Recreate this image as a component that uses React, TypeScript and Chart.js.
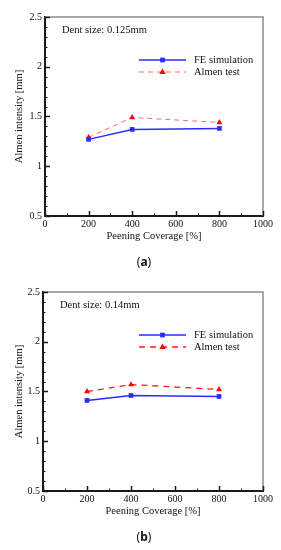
import React, { useEffect, useRef } from 'react';
import { Chart, registerables } from 'chart.js';

Chart.register(...registerables);

// ---- data ----
const coverage = [200, 400, 800];
const feA = [1.27, 1.37, 1.38];
const almenA = [1.29, 1.49, 1.44];
const feB = [1.41, 1.46, 1.45];
const almenB = [1.5, 1.57, 1.52];
const xTickValues = [0, 200, 400, 600, 800, 1000];
const yTickValues = [0.5, 1, 1.5, 2, 2.5];
const seriesNames = ['FE simulation', 'Almen test'];
const dentLabels = ['Dent size: 0.125mm', 'Dent size: 0.14mm'];
const captionLetters = ['a', 'b'];
const xTitle = 'Peening Coverage [%]';
const yTitle = 'Almen intensity [mm]';
const xMinorStep = 100;
const yMinorStep = 0.1;

const SERIF = "'Liberation Serif', 'Times New Roman', serif";
const W = 281;
const H = 275;

const decorPlugin = {
  id: 'decor',
  afterDraw(chart: any) {
    const { ctx, chartArea: a, scales } = chart;
    const x = scales.x;
    const y = scales.y;
    const o = chart.options.plugins.decor;
    ctx.save();
    // top / right frame
    ctx.strokeStyle = '#8c8c8c';
    ctx.lineWidth = 1.5;
    ctx.beginPath();
    ctx.moveTo(a.left, a.top);
    ctx.lineTo(a.right, a.top);
    ctx.lineTo(a.right, a.bottom);
    ctx.stroke();

    // inward ticks
    ctx.strokeStyle = '#1a1a1a';
    const xMajor = xTickValues[1] - xTickValues[0];
    for (let v = x.min; v <= x.max + 1e-6; v += xMinorStep) {
      const px = Math.round(x.getPixelForValue(v)) + 0.5;
      const major = Math.abs(v / xMajor - Math.round(v / xMajor)) < 1e-6;
      ctx.lineWidth = major ? 1.5 : 1;
      ctx.beginPath();
      ctx.moveTo(px, a.bottom);
      ctx.lineTo(px, a.bottom - (major ? 5 : 2.5));
      ctx.stroke();
    }
    const yMajor = yTickValues[1] - yTickValues[0];
    for (let v = y.min; v <= y.max + 1e-6; v += yMinorStep) {
      const py = Math.round(y.getPixelForValue(v)) + 0.5;
      const r = (v - y.min) / yMajor;
      const major = Math.abs(r - Math.round(r)) < 1e-6;
      ctx.lineWidth = major ? 1.5 : 1;
      ctx.beginPath();
      ctx.moveTo(a.left, py);
      ctx.lineTo(a.left + (major ? 5 : 2.5), py);
      ctx.stroke();
    }

    // dent size text
    ctx.fillStyle = '#111';
    ctx.font = `10.5px ${SERIF}`;
    ctx.textAlign = 'left';
    ctx.textBaseline = 'middle';
    ctx.fillText(o.dent, o.dentX, 30.5);

    // legend
    const ds = chart.data.datasets;
    const legendYs = [60, 72];
    ds.forEach((d: any, i: number) => {
      const ly = legendYs[i];
      ctx.save();
      ctx.strokeStyle = d.borderColor;
      ctx.lineWidth = d.borderWidth;
      ctx.setLineDash(d.borderDash || []);
      ctx.beginPath();
      ctx.moveTo(139, ly);
      ctx.lineTo(186, ly);
      ctx.stroke();
      ctx.restore();
      const mx = 162.5;
      ctx.fillStyle = d.pointBackgroundColor;
      if (d.pointStyle === 'rect') {
        const s = d.pointRadius * Math.SQRT1_2;
        ctx.fillRect(mx - s, ly - s, 2 * s, 2 * s);
      } else {
        const r = d.pointRadius;
        ctx.beginPath();
        ctx.moveTo(mx, ly - r);
        ctx.lineTo(mx + r * 0.95, ly + r * 0.6);
        ctx.lineTo(mx - r * 0.95, ly + r * 0.6);
        ctx.closePath();
        ctx.fill();
      }
      ctx.fillStyle = '#111';
      ctx.font = `10.5px ${SERIF}`;
      ctx.textAlign = 'left';
      ctx.textBaseline = 'middle';
      ctx.fillText(d.label, 194, ly);
    });

    // caption
    ctx.textBaseline = 'middle';
    ctx.textAlign = 'left';
    const f1 = `12px 'Noto Sans', sans-serif`;
    const f2 = `bold 12px 'Noto Sans', sans-serif`;
    ctx.font = f1;
    const wp = ctx.measureText('(').width;
    const wc = ctx.measureText(')').width;
    ctx.font = f2;
    const wl = ctx.measureText(o.letter).width;
    const total = wp + wl + wc;
    let cx = 144 - total / 2;
    ctx.fillStyle = '#111';
    ctx.font = f1;
    ctx.fillText('(', cx, 263);
    cx += wp;
    ctx.font = f2;
    ctx.fillText(o.letter, cx, 263);
    cx += wl;
    ctx.font = f1;
    ctx.fillText(')', cx, 263);
    ctx.restore();
  },
};

type PanelProps = {
  fe: number[];
  almen: number[];
  dent: string;
  dentX: number;
  letter: string;
  plotLeft: number;
  almenColor: string;
  almenWidth: number;
  almenDash: number[];
};

function Panel(p: PanelProps) {
  const ref = useRef<HTMLCanvasElement | null>(null);
  useEffect(() => {
    if (!ref.current) return;
    const padLeft = 13;
    const padTop = 17;
    const padRight = 18;
    const padBottom = 32;
    const plotBottom = 216;
    const chart = new Chart(ref.current, {
      type: 'line',
      data: {
        datasets: [
          {
            label: seriesNames[0],
            data: coverage.map((c, i) => ({ x: c, y: p.fe[i] })),
            borderColor: '#2b2bff',
            backgroundColor: '#2b2bff',
            pointBackgroundColor: '#2b2bff',
            pointBorderColor: '#2b2bff',
            borderWidth: 1.5,
            pointStyle: 'rect',
            pointRadius: 3.3,
            pointBorderWidth: 0,
            tension: 0,
          },
          {
            label: seriesNames[1],
            data: coverage.map((c, i) => ({ x: c, y: p.almen[i] })),
            borderColor: p.almenColor,
            backgroundColor: '#ff0000',
            pointBackgroundColor: '#ff0000',
            pointBorderColor: '#ff0000',
            borderWidth: p.almenWidth,
            borderDash: p.almenDash,
            pointStyle: 'triangle',
            pointRadius: 3.4,
            pointBorderWidth: 0,
            tension: 0,
          },
        ] as any,
      },
      options: {
        animation: false,
        responsive: false,
        devicePixelRatio: 1,
        layout: { padding: { left: padLeft, top: padTop, right: padRight, bottom: padBottom } },
        scales: {
          x: {
            type: 'linear',
            min: xTickValues[0],
            max: xTickValues[xTickValues.length - 1],
            afterBuildTicks: (s: any) => {
              s.ticks = xTickValues.map((v) => ({ value: v }));
            },
            afterFit: (s: any) => {
              s.height = H - padBottom - plotBottom;
            },
            grid: { display: false, drawTicks: false },
            border: { display: true, width: 2, color: '#1a1a1a' },
            ticks: {
              padding: 2,
              maxRotation: 0,
              autoSkip: false,
              color: '#111',
              font: { family: SERIF, size: 10 },
              callback: (v: any) => String(v),
            },
            title: {
              display: true,
              text: xTitle,
              color: '#111',
              padding: { top: 0, bottom: 0 },
              font: { family: SERIF, size: 10.5 },
            },
          },
          y: {
            type: 'linear',
            min: yTickValues[0],
            max: yTickValues[yTickValues.length - 1],
            afterBuildTicks: (s: any) => {
              s.ticks = yTickValues.map((v) => ({ value: v }));
            },
            afterFit: (s: any) => {
              s.width = p.plotLeft - padLeft;
            },
            grid: { display: false, drawTicks: false },
            border: { display: true, width: 2, color: '#1a1a1a' },
            ticks: {
              padding: 3,
              color: '#111',
              font: { family: SERIF, size: 10 },
              callback: (v: any) => String(v),
            },
            title: {
              display: true,
              text: yTitle,
              color: '#111',
              padding: { top: 0, bottom: 0 },
              font: { family: SERIF, size: 10.5 },
            },
          },
        },
        plugins: {
          legend: { display: false },
          tooltip: { enabled: false },
          decor: { dent: p.dent, dentX: p.dentX, letter: p.letter },
        } as any,
      },
      plugins: [decorPlugin],
    } as any);
    return () => chart.destroy();
  }, []);
  return <canvas ref={ref} width={W} height={H} style={{ display: 'block', width: W, height: H }} />;
}

export default function App() {
  return (
    <div style={{ position: 'absolute', left: 0, top: 0, width: W, height: 2 * H, background: '#fff' }}>
      <Panel
        fe={feA}
        almen={almenA}
        dent={dentLabels[0]}
        dentX={62}
        letter={captionLetters[0]}
        plotLeft={45}
        almenColor="#ff6a6a"
        almenWidth={1}
        almenDash={[5, 4]}
      />
      <Panel
        fe={feB}
        almen={almenB}
        dent={dentLabels[1]}
        dentX={60}
        letter={captionLetters[1]}
        plotLeft={43}
        almenColor="#ff1a1a"
        almenWidth={1.3}
        almenDash={[6, 5]}
      />
    </div>
  );
}
